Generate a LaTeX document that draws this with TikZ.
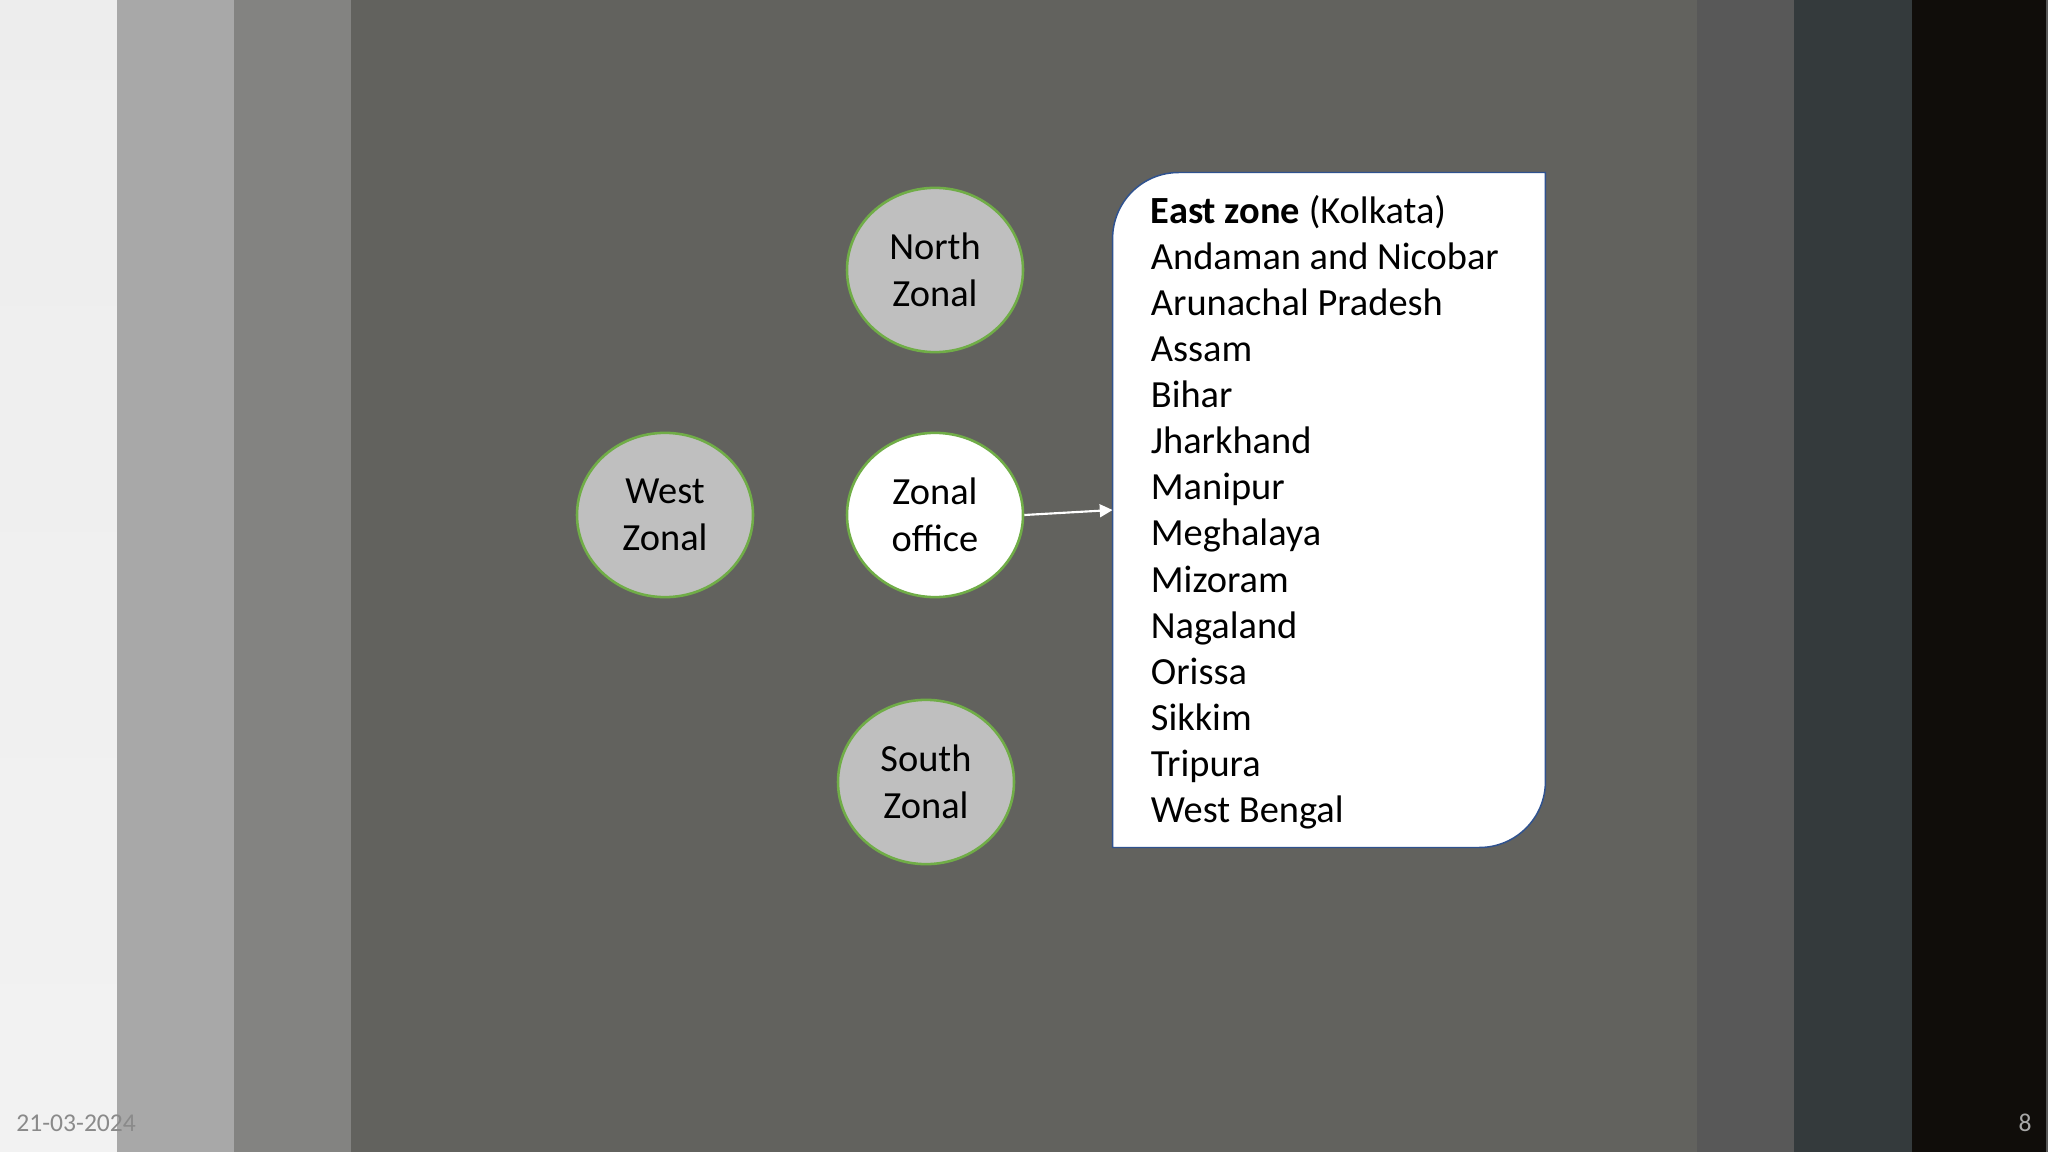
\documentclass[tikz,border=0pt]{standalone}
\usepackage{fontspec}
\setmainfont{Carlito}
\usetikzlibrary{shapes.geometric,arrows.meta}
\pgfdeclarelayer{bg}
\pgfdeclarelayer{boxbg}
\pgfsetlayers{bg,boxbg,main}
\definecolor{stripA}{HTML}{A8A8A8}
\definecolor{stripB}{HTML}{838381}
\definecolor{mainbg}{HTML}{62625E}
\definecolor{stripC}{HTML}{585858}
\definecolor{stripD}{HTML}{343A3C}
\definecolor{stripE}{HTML}{100D0A}
\definecolor{zonefill}{HTML}{BFBFBF}
\definecolor{zoneline}{HTML}{70AD47}
\definecolor{boxline}{HTML}{2F528F}
\definecolor{datecol}{HTML}{8A8A8A}
\definecolor{numcol}{HTML}{A8A8A8}
\tikzset{
  zone/.style={ellipse, draw=zoneline, line width=1.2pt, fill=zonefill,
    minimum width=82.5pt, minimum height=77pt, inner sep=0pt, align=center,
    font=\fontsize{18}{22}\selectfont, text=black},
  office/.style={zone, fill=white},
  listbox/.style={rectangle, inner sep=0pt, minimum width=202.5pt, minimum height=316pt},
  listtext/.style={inner sep=0pt, align=left, font=\fontsize{18}{21.6}\selectfont, text=black},
  boxoutline/.style={draw=boxline, line width=0.7pt, fill=white},
  link/.style={draw=white, line width=1pt, -{Triangle[length=6pt,width=6pt]}},
  footer/.style={font=\fontsize{12}{14}\selectfont, inner sep=0pt}
}
\begin{document}
\begin{tikzpicture}[x=0.46875pt, y=-0.46875pt]
\useasboundingbox (0,0) rectangle (2048,1152);
\begin{pgfonlayer}{bg}
  \shade[top color=gray!14, middle color=white, bottom color=gray!10] (0,0) rectangle (118,1152);
  \fill[stripA] (117,0) rectangle (234,1152);
  \fill[stripB] (234,0) rectangle (351,1152);
  \fill[mainbg] (351,0) rectangle (1697,1152);
  \fill[stripC] (1697,0) rectangle (1794,1152);
  \fill[stripD] (1794,0) rectangle (1912,1152);
  \fill[stripE] (1912,0) rectangle (2046,1152);
  \fill[stripC] (2046,0) rectangle (2048,1152);
\end{pgfonlayer}

\node[zone] (north) at (935,270) {North\\Zonal};
\node[zone] (west) at (665,515) {West\\Zonal};
\node[office] (officenode) at (935,515) {Zonal\\office};
\node[zone] (south) at (926,782) {South\\Zonal};

\node[listbox] (box) at (1329,510) {};
\node[listtext, anchor=west] (list) at ([xshift=17.75pt,yshift=-1pt]box.west) {\textbf{East zone} (Kolkata)\\
Andaman and Nicobar\\
Arunachal Pradesh\\
Assam\\
Bihar\\
Jharkhand\\
Manipur\\
Meghalaya\\
Mizoram\\
Nagaland\\
Orissa\\
Sikkim\\
Tripura\\
West Bengal};

\begin{pgfonlayer}{boxbg}
  \draw[boxoutline] (box.south west) -- ([yshift=-31pt]box.north west)
    arc[start angle=180, end angle=90, radius=31pt] -- (box.north east)
    -- ([yshift=31pt]box.south east)
    arc[start angle=0, end angle=-90, radius=31pt] -- cycle;
\end{pgfonlayer}

\draw[link] (officenode.east) -- (box.west);

\node[footer, text=datecol, anchor=base west] (date) at (16,1131) {21-03-2024};
\node[footer, text=numcol, anchor=base east] (page) at (2032,1131) {8};
\end{tikzpicture}
\end{document}
